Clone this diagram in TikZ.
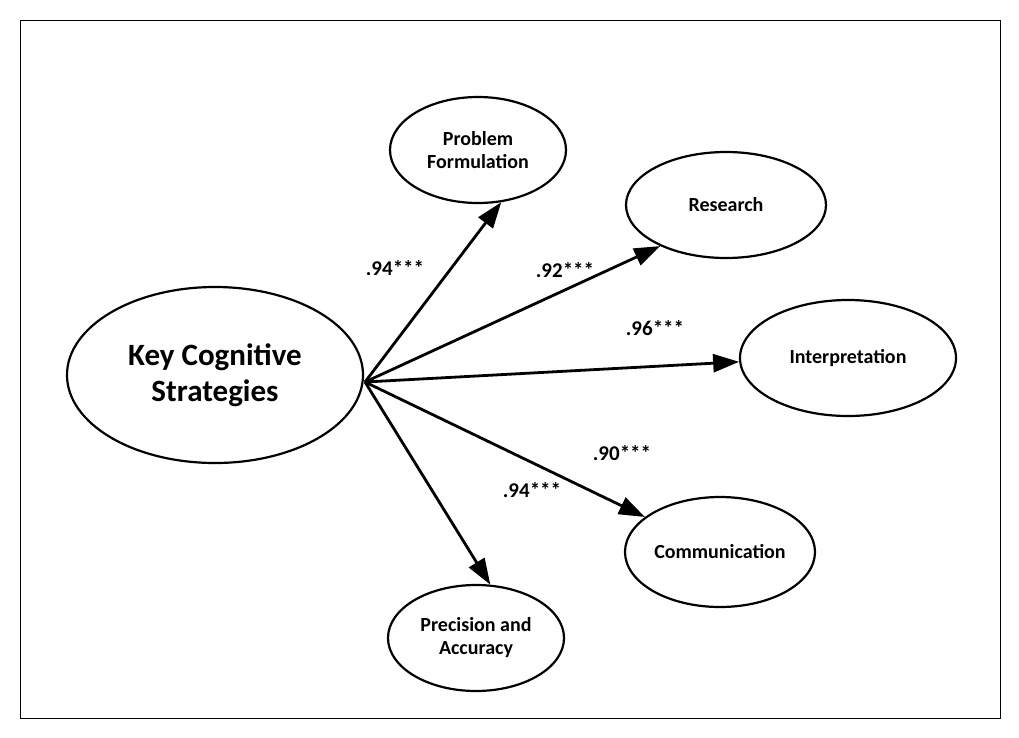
\documentclass[tikz,border=0pt]{standalone}
\usepackage{fontspec}
\setmainfont{Carlito}
\usetikzlibrary{arrows.meta,shapes.geometric}
\begin{document}
\begin{tikzpicture}[x=1pt,y=-1pt,
  el/.style={draw,ellipse,line width=2.2pt,inner sep=0pt,font=\bfseries\fontsize{20}{23}\selectfont,align=center},
  arr/.style={line width=2.8pt,-{Triangle[length=26pt,width=18pt]}},
  lab/.style={font=\bfseries\fontsize{21}{24}\selectfont}]
\useasboundingbox (0,0) rectangle (1019,737);
\draw[line width=1pt] (20,20) rectangle (1000,718);
\node[el,minimum width=296pt,minimum height=176pt,font=\bfseries\fontsize{31}{36}\selectfont] (k) at (215,375) {Key Cognitive\\Strategies};
\node[el,minimum width=176pt,minimum height=106pt] (p) at (478,150) {Problem\\Formulation};
\node[el,minimum width=200pt,minimum height=106pt] (r) at (726,205) {Research};
\node[el,minimum width=216pt,minimum height=116pt] (i) at (848,358) {Interpretation};
\node[el,minimum width=190pt,minimum height=110pt] (c) at (720,552) {Communication};
\node[el,minimum width=176pt,minimum height=106pt] (a) at (476,638) {Precision and\\Accuracy};
\coordinate (o) at (365,382);
\draw[arr] (o) -- (p.294);
\draw[arr] (o) -- (r.212);
\draw[arr] (o) -- (i.182);
\draw[arr] (o) -- (c.155);
\draw[arr] (o) -- (a.75);
\node[lab] (l1) at (395,268) {.94***};
\node[lab] (l2) at (565,270) {.92***};
\node[lab] (l3) at (655,328) {.96***};
\node[lab] (l4) at (622,453) {.90***};
\node[lab] (l5) at (532,490) {.94***};
\end{tikzpicture}
\end{document}
